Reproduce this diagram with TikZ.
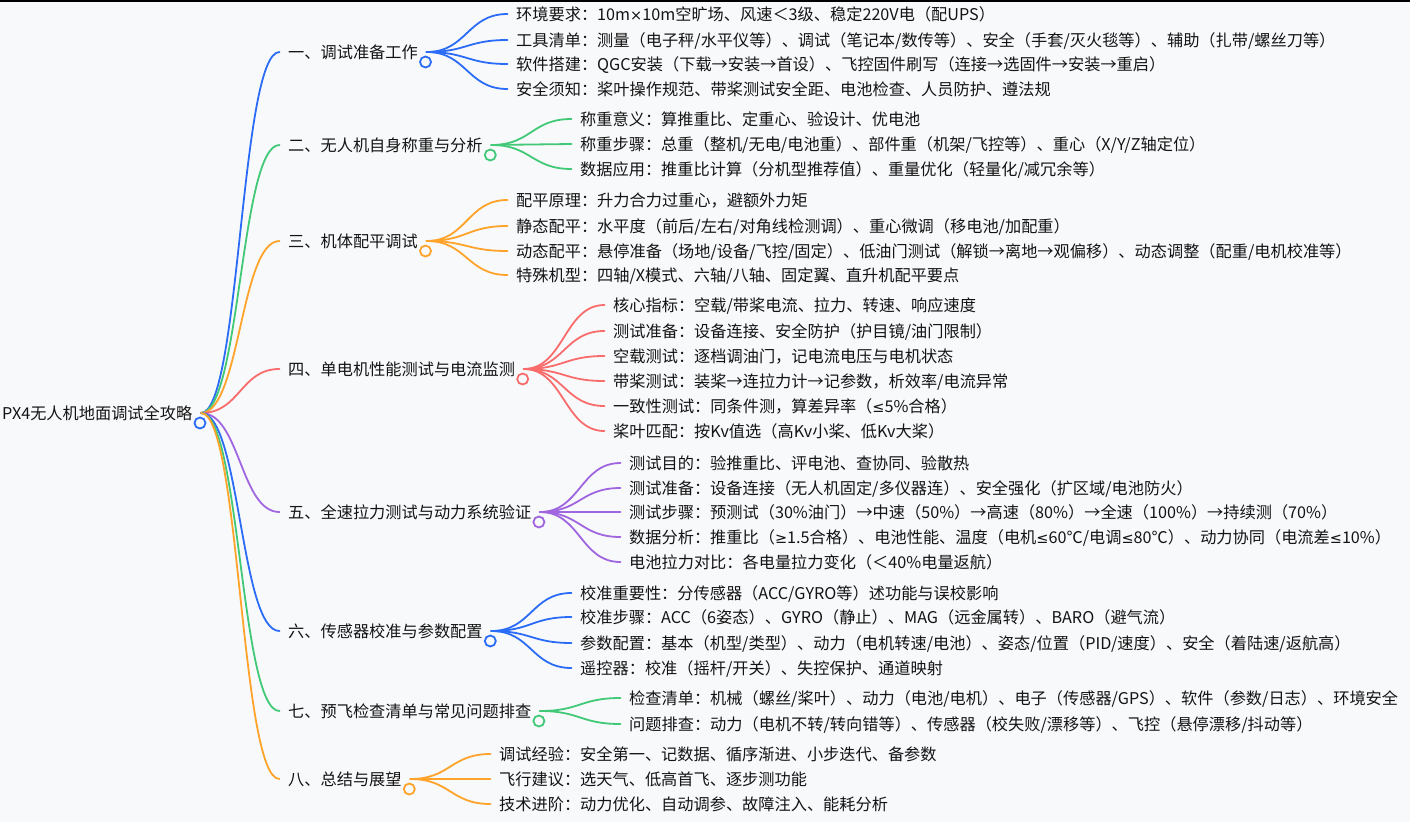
\documentclass[tikz,border=0pt]{standalone}
\usepackage{fontspec}
\setmainfont{Noto Sans CJK SC}
\newfontfamily\symf{DejaVu Sans}
\newcommand\lesym{{\symf\fontsize{14.5}{17}\selectfont ≤}}
\newcommand\gesym{{\symf\fontsize{14.5}{17}\selectfont ≥}}
\newcommand\timessym{{\symf\fontsize{14.5}{17}\selectfont ×}}
\usetikzlibrary{calc}
\definecolor{bgc}{RGB}{248,249,251}
\definecolor{txtc}{RGB}{20,20,20}
\definecolor{cblue}{RGB}{43,108,246}
\definecolor{cgreen}{RGB}{66,201,120}
\definecolor{corange}{RGB}{255,163,42}
\definecolor{cred}{RGB}{248,108,108}
\definecolor{cpurple}{RGB}{160,102,224}
\tikzset{
  txt/.style={anchor=west, inner xsep=8.5pt, inner ysep=0pt, text height=14.5pt, text depth=1.5pt, font=\fontsize{16.2}{19}\selectfont, text=txtc},
  dot/.style={circle, draw=#1, line width=1.8pt, fill=bgc, minimum size=11pt, inner sep=0pt},
  lk/.style={draw=#1, line width=1.8pt, line cap=round},
}
\newcommand\mmlink[3]{\draw[lk=#1] let \p1=(#2), \p2=(#3) in (\p1) .. controls ({(\x1+\x2)/2},\y1) and ({(\x1+\x2)/2},\y2) .. (\p2);}
\begin{document}
\begin{tikzpicture}[x=1pt,y=-1pt]
\useasboundingbox (0,0) rectangle (1410,822);
\fill[bgc] (0,0) rectangle (1410,822);
\fill[black] (0,0) rectangle (1410,1.5);

% root
\node[txt] (root) at (-6.5,413) {PX4无人机地面调试全攻略};

% level 1
\node[txt] (A) at (279.5,52) {一、调试准备工作};
\node[txt] (B) at (279.5,145) {二、无人机自身称重与分析};
\node[txt] (C) at (279.5,241) {三、机体配平调试};
\node[txt] (D) at (279.5,369) {四、单电机性能测试与电流监测};
\node[txt] (E) at (279.5,512) {五、全速拉力测试与动力系统验证};
\node[txt] (F) at (279.5,631) {六、传感器校准与参数配置};
\node[txt] (G) at (279.5,711) {七、预飞检查清单与常见问题排查};
\node[txt] (H) at (279.5,779) {八、总结与展望};

% group A
\node[txt] (A1) at (507.5,14) {环境要求：10m\timessym10m空旷场、风速＜3级、稳定220V电（配UPS）};
\node[txt] (A2) at (507.5,40) {工具清单：测量（电子秤/水平仪等）、调试（笔记本/数传等）、安全（手套/灭火毯等）、辅助（扎带/螺丝刀等）};
\node[txt] (A3) at (507.5,64) {软件搭建：QGC安装（下载→安装→首设）、飞控固件刷写（连接→选固件→安装→重启）};
\node[txt] (A4) at (507.5,89) {安全须知：桨叶操作规范、带桨测试安全距、电池检查、人员防护、遵法规};
% group B
\node[txt] (B1) at (571.5,119) {称重意义：算推重比、定重心、验设计、优电池};
\node[txt] (B2) at (571.5,144) {称重步骤：总重（整机/无电/电池重）、部件重（机架/飞控等）、重心（X/Y/Z轴定位）};
\node[txt] (B3) at (571.5,169) {数据应用：推重比计算（分机型推荐值）、重量优化（轻量化/减冗余等）};
% group C
\node[txt] (C1) at (507.5,200) {配平原理：升力合力过重心，避额外力矩};
\node[txt] (C2) at (507.5,226) {静态配平：水平度（前后/左右/对角线检测调）、重心微调（移电池/加配重）};
\node[txt] (C3) at (507.5,251) {动态配平：悬停准备（场地/设备/飞控/固定）、低油门测试（解锁→离地→观偏移）、动态调整（配重/电机校准等）};
\node[txt] (C4) at (507.5,275) {特殊机型：四轴/X模式、六轴/八轴、固定翼、直升机配平要点};
% group D
\node[txt] (D1) at (604.5,305) {核心指标：空载/带桨电流、拉力、转速、响应速度};
\node[txt] (D2) at (604.5,331) {测试准备：设备连接、安全防护（护目镜/油门限制）};
\node[txt] (D3) at (604.5,356) {空载测试：逐档调油门，记电流电压与电机状态};
\node[txt] (D4) at (604.5,381) {带桨测试：装桨→连拉力计→记参数，析效率/电流异常};
\node[txt] (D5) at (604.5,406) {一致性测试：同条件测，算差异率（\lesym5\%合格）};
\node[txt] (D6) at (604.5,431) {桨叶匹配：按Kv值选（高Kv小桨、低Kv大桨）};
% group E
\node[txt] (E1) at (620.5,463) {测试目的：验推重比、评电池、查协同、验散热};
\node[txt] (E2) at (620.5,488) {测试准备：设备连接（无人机固定/多仪器连）、安全强化（扩区域/电池防火）};
\node[txt] (E3) at (620.5,512) {测试步骤：预测试（30\%油门）→中速（50\%）→高速（80\%）→全速（100\%）→持续测（70\%）};
\node[txt] (E4) at (620.5,537) {数据分析：推重比（\gesym1.5合格）、电池性能、温度（电机\lesym60℃/电调\lesym80℃）、动力协同（电流差\lesym10\%）};
\node[txt] (E5) at (620.5,562) {电池拉力对比：各电量拉力变化（＜40\%电量返航）};
% group F
\node[txt] (F1) at (571.5,593) {校准重要性：分传感器（ACC/GYRO等）述功能与误校影响};
\node[txt] (F2) at (571.5,617) {校准步骤：ACC（6姿态）、GYRO（静止）、MAG（远金属转）、BARO（避气流）};
\node[txt] (F3) at (571.5,643) {参数配置：基本（机型/类型）、动力（电机转速/电池）、姿态/位置（PID/速度）、安全（着陆速/返航高）};
\node[txt] (F4) at (571.5,668) {遥控器：校准（摇杆/开关）、失控保护、通道映射};
% group G
\node[txt] (G1) at (620.5,698) {检查清单：机械（螺丝/桨叶）、动力（电池/电机）、电子（传感器/GPS）、软件（参数/日志）、环境安全};
\node[txt] (G2) at (620.5,724) {问题排查：动力（电机不转/转向错等）、传感器（校失败/漂移等）、飞控（悬停漂移/抖动等）};
% group H
\node[txt] (H1) at (490.5,754) {调试经验：安全第一、记数据、循序渐进、小步迭代、备参数};
\node[txt] (H2) at (490.5,779) {飞行建议：选天气、低高首飞、逐步测功能};
\node[txt] (H3) at (490.5,804) {技术进阶：动力优化、自动调参、故障注入、能耗分析};

% root links
\mmlink{cblue}{root.east}{A.west}
\mmlink{cgreen}{root.east}{B.west}
\mmlink{corange}{root.east}{C.west}
\mmlink{cred}{root.east}{D.west}
\mmlink{cpurple}{root.east}{E.west}
\mmlink{cblue}{root.east}{F.west}
\mmlink{cgreen}{root.east}{G.west}
\mmlink{corange}{root.east}{H.west}

% child links
\foreach \c in {A1,A2,A3,A4} {\mmlink{cblue}{A.east}{\c.west}}
\foreach \c in {B1,B2,B3} {\mmlink{cgreen}{B.east}{\c.west}}
\foreach \c in {C1,C2,C3,C4} {\mmlink{corange}{C.east}{\c.west}}
\foreach \c in {D1,D2,D3,D4,D5,D6} {\mmlink{cred}{D.east}{\c.west}}
\foreach \c in {E1,E2,E3,E4,E5} {\mmlink{cpurple}{E.east}{\c.west}}
\foreach \c in {F1,F2,F3,F4} {\mmlink{cblue}{F.east}{\c.west}}
\foreach \c in {G1,G2} {\mmlink{cgreen}{G.east}{\c.west}}
\foreach \c in {H1,H2,H3} {\mmlink{corange}{H.east}{\c.west}}

% fold circles
\node[dot=cblue] (rootc) at ([xshift=-1pt,yshift=-10pt]root.east) {};
\node[dot=cblue] (Ac) at ([xshift=-1pt,yshift=-10pt]A.east) {};
\node[dot=cgreen] (Bc) at ([xshift=-1pt,yshift=-10pt]B.east) {};
\node[dot=corange] (Cc) at ([xshift=-1pt,yshift=-10pt]C.east) {};
\node[dot=cred] (Dc) at ([xshift=-1pt,yshift=-10pt]D.east) {};
\node[dot=cpurple] (Ec) at ([xshift=-1pt,yshift=-10pt]E.east) {};
\node[dot=cblue] (Fc) at ([xshift=-1pt,yshift=-10pt]F.east) {};
\node[dot=cgreen] (Gc) at ([xshift=-1pt,yshift=-10pt]G.east) {};
\node[dot=corange] (Hc) at ([xshift=-1pt,yshift=-10pt]H.east) {};
\end{tikzpicture}
\end{document}
